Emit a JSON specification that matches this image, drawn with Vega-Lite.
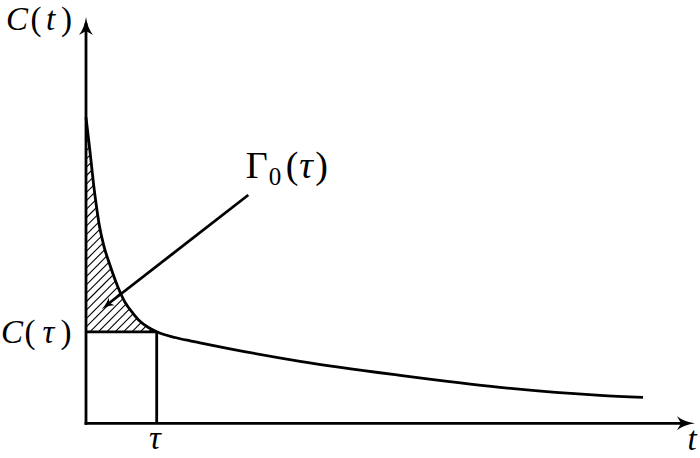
{
  "$schema": "https://vega.github.io/schema/vega-lite/v6.json",
  "width": 700,
  "height": 458,
  "autosize": "none",
  "padding": 0,
  "background": "white",
  "config": {"view": {"stroke": null}},
  "datasets": {
    "curve": [
      {"x": 0, "y": 30.6}, {"x": 0.33, "y": 27.8}, {"x": 0.55, "y": 25.8}, {"x": 0.77, "y": 23.8},
      {"x": 1.03, "y": 21.8}, {"x": 1.33, "y": 19.8}, {"x": 1.77, "y": 17.8}, {"x": 2.4, "y": 15.8},
      {"x": 3.2, "y": 13.6}, {"x": 3.9, "y": 12.1}, {"x": 4.7, "y": 11.0}, {"x": 5.4, "y": 10.2},
      {"x": 6.2, "y": 9.6}, {"x": 7.07, "y": 9.15}, {"x": 8.9, "y": 8.58}, {"x": 10.4, "y": 8.25},
      {"x": 11.4, "y": 8.05}, {"x": 14.4, "y": 7.45}, {"x": 21.4, "y": 6.2}, {"x": 31.4, "y": 4.8},
      {"x": 41.4, "y": 3.6}, {"x": 51.4, "y": 2.8}, {"x": 55.7, "y": 2.6}
    ],
    "hatch": [
      {"x": 0, "y": 29.77, "x2": 0.86, "y2": 30.63},
      {"x": 0, "y": 28.93, "x2": 1.70, "y2": 30.63},
      {"x": 0, "y": 28.09, "x2": 2.54, "y2": 30.63},
      {"x": 0, "y": 27.25, "x2": 3.38, "y2": 30.63},
      {"x": 0, "y": 26.41, "x2": 4.22, "y2": 30.63},
      {"x": 0, "y": 25.57, "x2": 5.06, "y2": 30.63},
      {"x": 0, "y": 24.73, "x2": 5.90, "y2": 30.63},
      {"x": 0, "y": 23.89, "x2": 6.74, "y2": 30.63},
      {"x": 0, "y": 23.05, "x2": 7.07, "y2": 30.12},
      {"x": 0, "y": 22.21, "x2": 7.07, "y2": 29.28},
      {"x": 0, "y": 21.37, "x2": 7.07, "y2": 28.44},
      {"x": 0, "y": 20.53, "x2": 7.07, "y2": 27.60},
      {"x": 0, "y": 19.69, "x2": 7.07, "y2": 26.76},
      {"x": 0, "y": 18.85, "x2": 7.07, "y2": 25.92},
      {"x": 0, "y": 18.01, "x2": 7.07, "y2": 25.08},
      {"x": 0, "y": 17.17, "x2": 7.07, "y2": 24.24},
      {"x": 0, "y": 16.33, "x2": 7.07, "y2": 23.40},
      {"x": 0, "y": 15.49, "x2": 7.07, "y2": 22.56},
      {"x": 0, "y": 14.65, "x2": 7.07, "y2": 21.72},
      {"x": 0, "y": 13.81, "x2": 7.07, "y2": 20.88},
      {"x": 0, "y": 12.97, "x2": 7.07, "y2": 20.04},
      {"x": 0, "y": 12.13, "x2": 7.07, "y2": 19.20},
      {"x": 0, "y": 11.29, "x2": 7.07, "y2": 18.36},
      {"x": 0, "y": 10.45, "x2": 7.07, "y2": 17.52},
      {"x": 0, "y": 9.61, "x2": 7.07, "y2": 16.68},
      {"x": 0.39, "y": 9.15, "x2": 7.07, "y2": 15.84},
      {"x": 1.23, "y": 9.15, "x2": 7.07, "y2": 15.00},
      {"x": 2.07, "y": 9.15, "x2": 7.07, "y2": 14.16},
      {"x": 2.91, "y": 9.15, "x2": 7.07, "y2": 13.32},
      {"x": 3.75, "y": 9.15, "x2": 7.07, "y2": 12.48},
      {"x": 4.59, "y": 9.15, "x2": 7.07, "y2": 11.64},
      {"x": 5.43, "y": 9.15, "x2": 7.07, "y2": 10.80},
      {"x": 6.27, "y": 9.15, "x2": 7.07, "y2": 9.96}
    ],
    "segments": [
      {"name": "yaxis", "x": 0, "y": -0.14, "x2": 0, "y2": 40.0},
      {"name": "xaxis", "x": -0.14, "y": 0, "x2": 60.0, "y2": 0},
      {"name": "level", "x": 0, "y": 9.15, "x2": 7.07, "y2": 9.15},
      {"name": "tau", "x": 7.07, "y": 9.15, "x2": 7.07, "y2": 0},
      {"name": "pointer", "x": 16.23, "y": 22.83, "x2": 2.2, "y2": 11.93}
    ],
    "heads": [
      {"name": "yaxis", "x": 0, "y": 40.63},
      {"name": "xaxis", "x": 60.9, "y": 0},
      {"name": "pointer", "x": 1.57, "y": 11.43}
    ],
    "labelsItalic": [
      {"s": "C", "x": -6.9, "y": 39.33},
      {"s": "t", "x": -3.55, "y": 39.33},
      {"s": "C", "x": -7.4, "y": 8.03},
      {"s": "τ", "x": -3.75, "y": 8.03},
      {"s": "τ", "x": 6.9, "y": -2.57},
      {"s": "t", "x": 60.6, "y": -2.67}
    ],
    "labelsRoman": [
      {"s": "(", "x": -5.0, "y": 39.33},
      {"s": ")", "x": -1.95, "y": 39.33},
      {"s": "(", "x": -5.6, "y": 8.03},
      {"s": ")", "x": -2.0, "y": 8.03}
    ],
    "gammaRoman": [
      {"s": "Γ", "x": 17.07, "y": 24.53},
      {"s": "(", "x": 20.6, "y": 24.53},
      {"s": ")", "x": 23.55, "y": 24.53}
    ],
    "gammaItalic": [
      {"s": "τ", "x": 22.0, "y": 24.53}
    ],
    "gammaSub": [
      {"s": "0", "x": 18.9, "y": 23.83}
    ]
  },
  "encoding": {
    "x": {"field": "x", "type": "quantitative", "scale": {"domain": [-8.6, 61.4], "nice": false, "zero": false}, "axis": null},
    "y": {"field": "y", "type": "quantitative", "scale": {"domain": [-3.47, 42.33], "nice": false, "zero": false}, "axis": null}
  },
  "layer": [
    {
      "data": {"name": "hatch"},
      "mark": {"type": "rule", "color": "black", "strokeWidth": 1.1},
      "encoding": {"x2": {"field": "x2"}, "y2": {"field": "y2"}}
    },
    {
      "data": {"name": "curve"},
      "mark": {"type": "area", "interpolate": "monotone", "color": "white", "opacity": 1},
      "encoding": {"y2": {"datum": 31.5}}
    },
    {
      "data": {"name": "segments"},
      "mark": {"type": "rule", "color": "black", "strokeWidth": 2.8, "strokeCap": "butt"},
      "encoding": {"x2": {"field": "x2"}, "y2": {"field": "y2"}}
    },
    {
      "data": {"name": "curve"},
      "mark": {"type": "line", "interpolate": "monotone", "color": "black", "strokeWidth": 2.8},
      "encoding": {}
    },
    {
      "data": {"name": "heads"},
      "transform": [{"filter": "datum.name === 'yaxis'"}],
      "mark": {"type": "point", "shape": "M0,0 Q0.15,1.1 0.7,1.8 L0,1.4 L-0.7,1.8 Q-0.15,1.1 0,0 Z", "filled": true, "color": "black", "opacity": 1, "size": 400, "angle": 0, "strokeWidth": 0}
    },
    {
      "data": {"name": "heads"},
      "transform": [{"filter": "datum.name === 'xaxis'"}],
      "mark": {"type": "point", "shape": "M0,0 Q0.15,1.1 0.7,1.8 L0,1.4 L-0.7,1.8 Q-0.15,1.1 0,0 Z", "filled": true, "color": "black", "opacity": 1, "size": 400, "angle": 90, "strokeWidth": 0}
    },
    {
      "data": {"name": "heads"},
      "transform": [{"filter": "datum.name === 'pointer'"}],
      "mark": {"type": "point", "shape": "M0,0 Q0.15,1.1 0.7,1.8 L0,1.4 L-0.7,1.8 Q-0.15,1.1 0,0 Z", "filled": true, "color": "black", "opacity": 1, "size": 196, "angle": 232.1, "strokeWidth": 0}
    },
    {
      "data": {"name": "labelsItalic"},
      "mark": {"type": "text", "font": "Liberation Serif", "fontStyle": "italic", "fontSize": 33, "align": "center", "baseline": "alphabetic", "color": "black"},
      "encoding": {"text": {"field": "s"}}
    },
    {
      "data": {"name": "labelsRoman"},
      "mark": {"type": "text", "font": "Liberation Serif", "fontSize": 33, "align": "center", "baseline": "alphabetic", "color": "black"},
      "encoding": {"text": {"field": "s"}}
    },
    {
      "data": {"name": "gammaRoman"},
      "mark": {"type": "text", "font": "Liberation Serif", "fontSize": 38, "align": "center", "baseline": "alphabetic", "color": "black"},
      "encoding": {"text": {"field": "s"}}
    },
    {
      "data": {"name": "gammaItalic"},
      "mark": {"type": "text", "font": "Liberation Serif", "fontStyle": "italic", "fontSize": 38, "align": "center", "baseline": "alphabetic", "color": "black"},
      "encoding": {"text": {"field": "s"}}
    },
    {
      "data": {"name": "gammaSub"},
      "mark": {"type": "text", "font": "Liberation Serif", "fontSize": 25, "align": "center", "baseline": "alphabetic", "color": "black"},
      "encoding": {"text": {"field": "s"}}
    }
  ]
}
